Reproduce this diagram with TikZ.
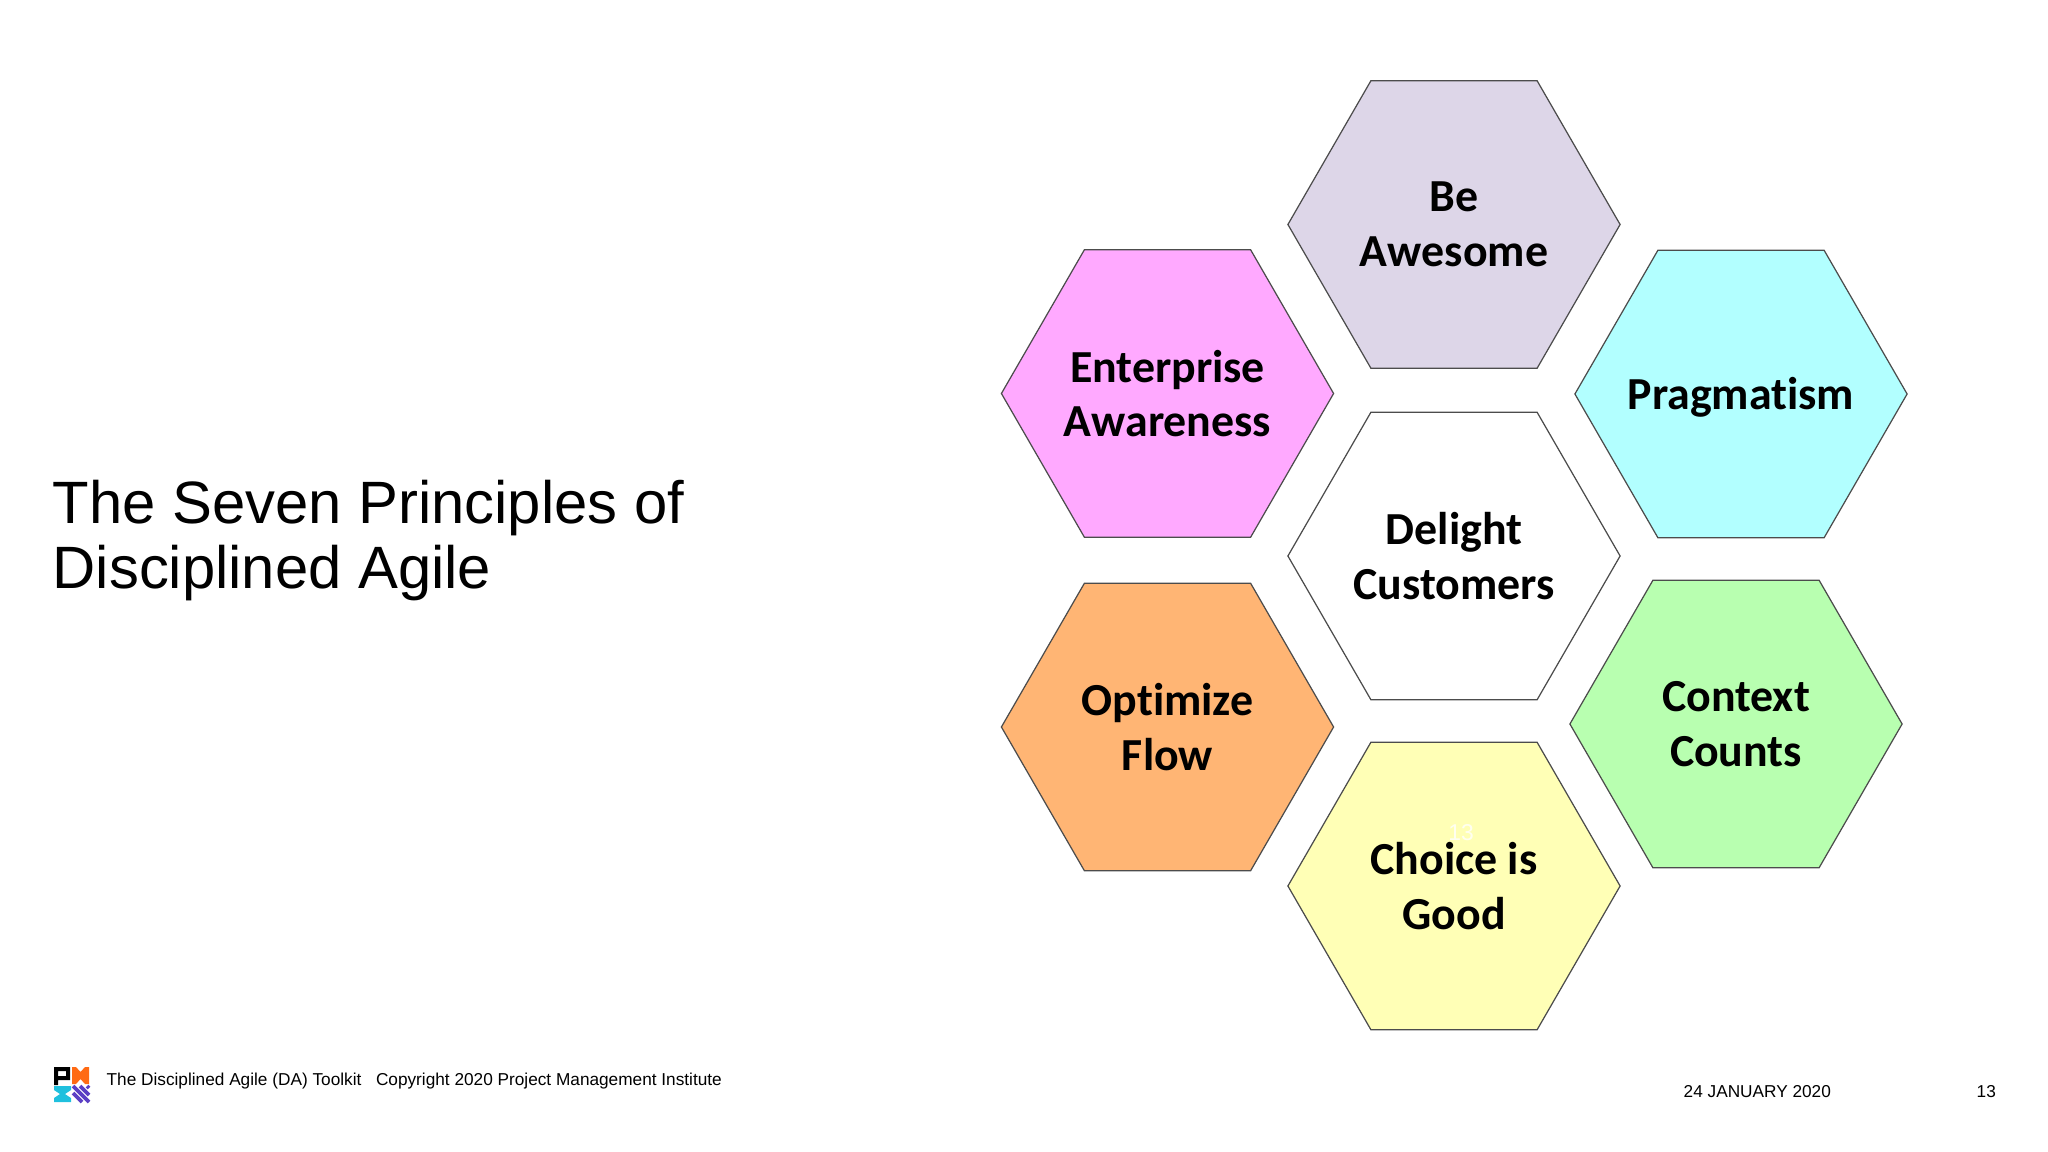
\documentclass[tikz,border=0pt]{standalone}
\usepackage{xcolor}
\usepackage{fontspec}
\setmainfont{Liberation Sans}
\newfontfamily\hexfont{Carlito}[Ligatures=NoCommon]
\usetikzlibrary{shapes,positioning,calc}
\definecolor{hexlavender}{HTML}{DDD6E8}
\definecolor{hexpink}{HTML}{FFA9FF}
\definecolor{hexcyan}{HTML}{B2FFFF}
\definecolor{hexorange}{HTML}{FFB574}
\definecolor{hexgreen}{HTML}{B8FFB0}
\definecolor{hexyellow}{HTML}{FFFFB6}
\definecolor{logoorange}{HTML}{FF6A13}
\definecolor{logocyan}{HTML}{1FC0DE}
\definecolor{logopurple}{HTML}{5B3FC4}
\tikzset{
    hexbox/.style={regular polygon,regular polygon sides=6,
        minimum size=3.32cm,inner sep=0pt,outer sep=0pt,draw=black!70,line width=0.35pt},
    hextext/.style={inner sep=0pt,align=center,font=\hexfont\bfseries\fontsize{13.05}{15.5}\selectfont},
    footertext/.style={anchor=west,inner sep=0pt,font=\fontsize{4.9}{5.9}\selectfont}
}

\begin{document}
\begin{tikzpicture}[x=0.01cm,y=-0.01cm]
    \useasboundingbox (0,0) rectangle (2048,1152);

    \foreach \x/\y/\c/\n/\l in {
        1454/224.5/hexlavender/awesome/{Be\\Awesome},
        1167.5/393.5/hexpink/enterprise/{Enterprise\\Awareness},
        1741/394/hexcyan/pragmatism/{\rule{0pt}{11.2pt}Pragmatism},
        1454/556/white/delight/{Delight\\Customers},
        1167.5/727/hexorange/flow/{Optimize\\Flow},
        1736/724/hexgreen/context/{Context\\Counts},
        1454/886/hexyellow/choice/{Choice is\\Good}} {
        \node[hexbox,fill=\c,label={[hextext]center:\l}] (\n) at (\x,\y) {};
    }
    \node[text=white,opacity=0.8,font=\fontsize{6.5}{7.8}\selectfont,inner sep=0pt] (ghost) at (1461,833) {13};

    \node[anchor=west,inner sep=0pt,align=left,font=\fontsize{17}{18.5}\selectfont] (title) at (52,541) {The Seven Principles of\\Disciplined Agile};

    \node[footertext] (footer) at (106,1081.5) {The Disciplined Agile (DA) Toolkit\hspace{2.8pt} Copyright 2020 Project Management Institute};
    \node[footertext] (date) at (1683,1092) {24 JANUARY 2020};
    \node[footertext] (page) at (1976,1092) {13};

    \fill[black,even odd rule] (54,1067) -- (70,1067) -- (70,1080) -- (58,1080) -- (58,1085) -- (54,1085) -- cycle
        (58,1071) rectangle (66,1076);
    \fill[logoorange] (72,1067) -- (76,1067) -- (80.5,1072) -- (85,1067) -- (89,1067) -- (89,1084) -- (85,1084) -- (80.5,1079) -- (76,1084) -- (72,1084) -- cycle;
    \fill[logocyan] (54,1086) -- (71,1086) -- (71,1090) -- (65,1094) -- (71,1098) -- (71,1102) -- (54,1102) -- (54,1098) -- (60,1094) -- (54,1090) -- cycle;
    \foreach \d in {0,7,14} {
        \draw[logopurple,line width=1.1pt] (73+\d,1086) -- (89,1102-\d);
    }
    \draw[logopurple,line width=1.1pt] (73,1093) -- (82,1102);
\end{tikzpicture}
\end{document}
